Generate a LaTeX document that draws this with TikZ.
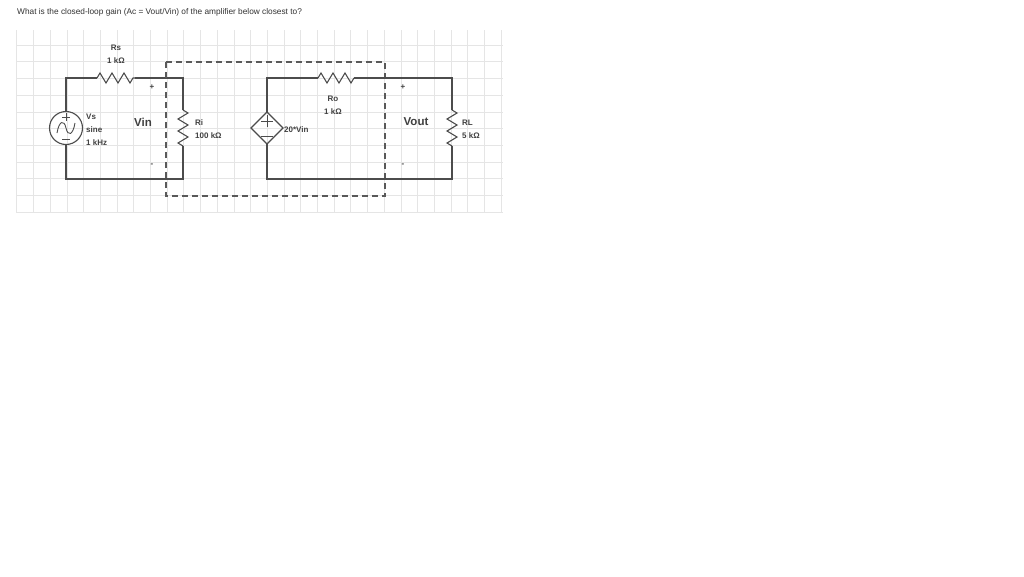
\documentclass[tikz,border=0pt]{standalone}
\usepackage{fontspec}
\setmainfont{Liberation Sans}
\usetikzlibrary{decorations.pathmorphing}
\begin{document}
\begin{tikzpicture}[x=1pt,y=-1pt,
  wire/.style={draw=black!70,line width=1.1pt},
  res/.style={wire,decorate,decoration={zigzag,segment length=12pt,amplitude=5pt,pre length=0pt,post length=0pt}},
  lbl/.style={font=\fontsize{8}{8}\selectfont\bfseries,text=black!75,inner sep=0pt},
  big/.style={font=\fontsize{11.5}{12}\selectfont\bfseries,text=black!75,inner sep=0pt},
  gridline/.style={draw=black!10,line width=0.6pt},
  dashline/.style={draw=black!65,line width=1.1pt,dash pattern=on 6pt off 4pt}]
\useasboundingbox (0,0) rectangle (1024,576);
\fill[white] (0,0) rectangle (1024,576);
\foreach \i in {0,...,29} \draw[gridline] (16.7+16.7*\i,30) -- (16.7+16.7*\i,213);
\foreach \j in {0,...,10} \draw[gridline] (17,45+16.7*\j) -- (503,45+16.7*\j);
\node[anchor=west,inner sep=0pt,font=\fontsize{8.3}{9}\selectfont,text=black!80] (title) at (17,12) {What is the closed-loop gain (Ac = Vout/Vin) of the amplifier below closest to?};
\coordinate (a1) at (66,78); \coordinate (a2) at (97,78); \coordinate (a3) at (135,78); \coordinate (a4) at (183,78);
\coordinate (a5) at (183,110); \coordinate (a6) at (183,146); \coordinate (a7) at (183,179); \coordinate (a8) at (66,179);
\node[draw=black!70,line width=1.1pt,circle,minimum size=33pt,inner sep=0pt] (vs) at (66,128) {};
\draw[wire] (vs.north) -- (a1) -- (a2);
\draw[res] (a2) -- (a3);
\draw[wire] (a3) -- (a4) -- (a5);
\draw[res] (a5) -- (a6);
\draw[wire] (a6) -- (a7) -- (a8) -- (vs.south);
\draw[black!70,line width=0.9pt] (57,133) .. controls (59,121) and (64,119) .. (66,128) .. controls (68,137) and (73,135) .. (75,123);
\draw[black!70,line width=0.8pt] (62,117) -- (70,117) (66,113) -- (66,121) (62,139) -- (70,139);
\draw[dashline] (166,62) -- (385,62) -- (385,196) -- (166,196) -- cycle;
\coordinate (b1) at (267,78); \coordinate (b2) at (318,78); \coordinate (b3) at (354,78); \coordinate (b4) at (452,78);
\coordinate (b5) at (452,110); \coordinate (b6) at (452,146); \coordinate (b7) at (452,179); \coordinate (b8) at (267,179);
\coordinate (dt) at (267,112); \coordinate (db) at (267,144);
\draw[wire] (dt) -- (251,128) -- (db) -- (283,128) -- cycle;
\draw[black!70,line width=0.9pt] (261,121) -- (273,121) (267,115) -- (267,127) (261,136) -- (273,136);
\draw[wire] (dt) -- (b1) -- (b2);
\draw[res] (b2) -- (b3);
\draw[wire] (b3) -- (b4) -- (b5);
\draw[res] (b5) -- (b6);
\draw[wire] (b6) -- (b7) -- (b8) -- (db);
\node[lbl] (l1) at (116,48) {Rs};
\node[lbl] (l2) at (116,61) {1 kΩ};
\node[lbl,anchor=west] (l3) at (86,117) {Vs};
\node[lbl,anchor=west] (l4) at (86,130) {sine};
\node[lbl,anchor=west] (l5) at (86,143) {1 kHz};
\node[big] (l6) at (143,122) {Vin};
\node[lbl] (l7) at (152,87) {+};
\node[lbl] (l8) at (152,165) {-};
\node[lbl,anchor=west] (l9) at (195,123) {Ri};
\node[lbl,anchor=west] (l10) at (195,136) {100 kΩ};
\node[lbl] (l11) at (333,99) {Ro};
\node[lbl] (l12) at (333,112) {1 kΩ};
\node[lbl,anchor=west] (l13) at (284,130) {20*Vin};
\node[big] (l14) at (416,122) {Vout};
\node[lbl] (l15) at (403,87) {+};
\node[lbl] (l16) at (403,165) {-};
\node[lbl,anchor=west] (l17) at (462,123) {RL};
\node[lbl,anchor=west] (l18) at (462,136) {5 kΩ};
\end{tikzpicture}
\end{document}
